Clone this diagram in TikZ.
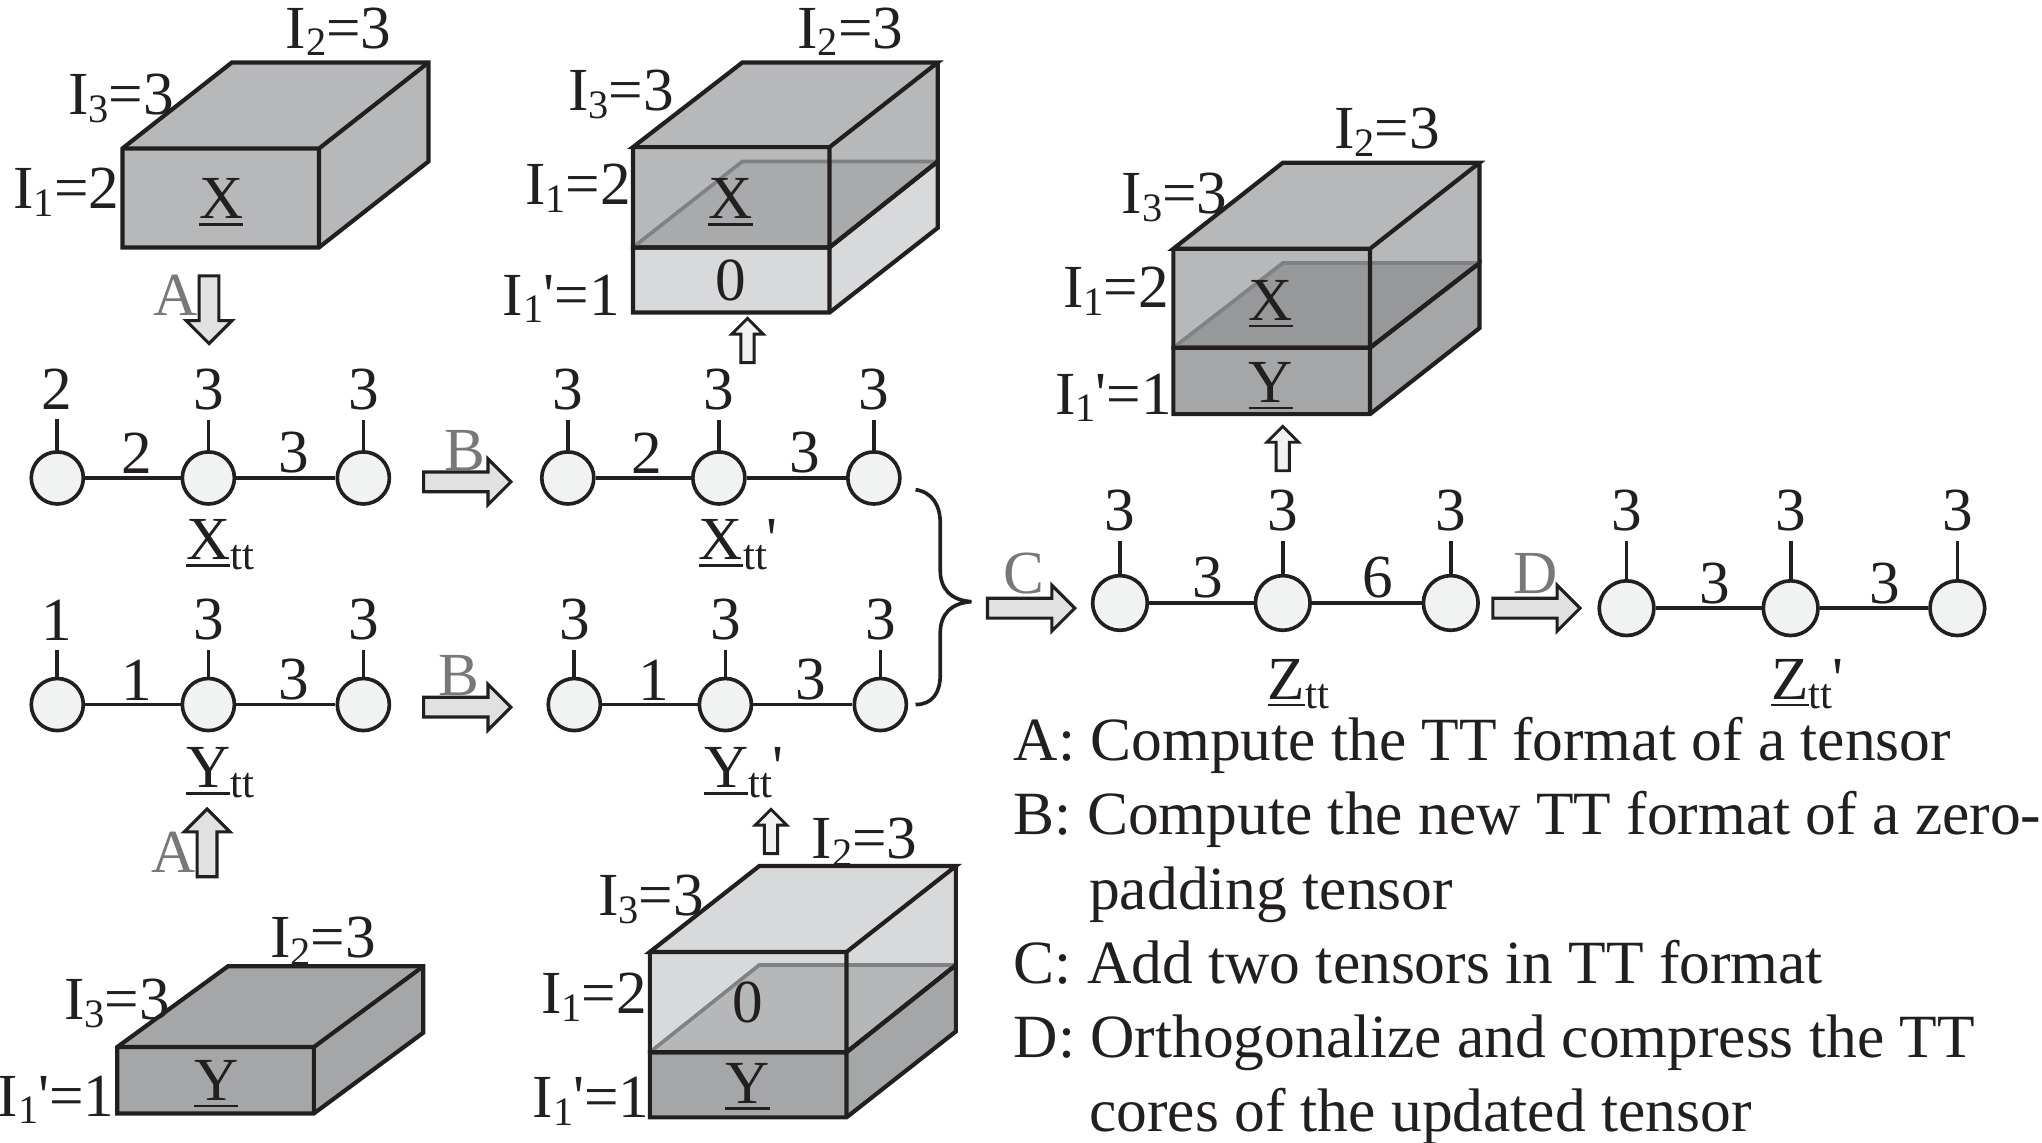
\documentclass[tikz,border=0pt]{standalone}
\usepackage{fontspec}
\setmainfont{Liberation Serif}
\usetikzlibrary{shapes.arrows}

\definecolor{edgecol}{HTML}{231F20}
\definecolor{hidcol}{HTML}{808183}
\definecolor{lablcol}{HTML}{77787A}
\definecolor{corecol}{HTML}{F1F2F2}
\definecolor{arrowcol}{HTML}{E0E1E3}
\definecolor{lightcol}{HTML}{D8D9DB}
\definecolor{midcol}{HTML}{B7B8BA}
\definecolor{floorcol}{HTML}{A9AAAC}
\definecolor{darkcol}{HTML}{A5A6A8}
\definecolor{deepcol}{HTML}{97989A}
\definecolor{softcol}{HTML}{B6B7B9}

\newcommand{\dn}[1]{\raisebox{-3pt}{\fontsize{15.5}{15.5}\selectfont #1}}
\newcommand{\tn}[1]{\raisebox{-3.5pt}{\fontsize{16.5}{16.5}\selectfont #1}}
\newcommand{\tick}{\textquotesingle}
\newcommand{\ubar}[1]{\leavevmode\setbox0\hbox{#1}\rlap{\raisebox{-2.7pt}{\rule{\wd0}{1.1pt}}}\box0}

\begin{document}
\begin{tikzpicture}[x=0.5pt,y=-0.5pt,node distance=58pt,line join=miter,
  text=edgecol,font=\fontsize{23.5}{24}\selectfont,
  core node/.style={circle,fill=corecol,draw=edgecol,line width=1.4pt,minimum size=20pt,inner sep=0pt},
  dim node/.style={inner sep=3.5pt},
  lab node/.style={anchor=base,inner sep=0pt},
  step label/.style={anchor=base,inner sep=0pt,text=lablcol},
  big arrow/.style={single arrow,draw=edgecol,fill=arrowcol,line width=1.2pt,inner sep=3.2pt,
    minimum height=33.5pt,minimum width=17pt,single arrow head extend=5pt},
  side arrow/.style={big arrow,minimum height=26pt},
  small arrow/.style={single arrow,draw=edgecol,fill=corecol,line width=1.1pt,inner sep=2pt,
    minimum height=17pt,minimum width=11pt,single arrow head extend=3.5pt,rotate=90},
  box line/.style={draw=edgecol,line width=1.6pt},
  hid line/.style={draw=hidcol,line width=1.4pt},
  tt edge/.style={draw=edgecol,line width=1.4pt},
  legend/.style={anchor=base west,inner sep=0pt,font=\fontsize{23.6}{24}\selectfont}]

  \useasboundingbox (0,0) rectangle (1568,877);

  % box X
  \path[fill=midcol,box line] (94,114) -- (178,48) -- (329,48) -- (329,124) -- (245,190) -- (94,190) -- cycle;
  \draw[box line] (94,114) -- (245,114) -- (329,48) (245,114) -- (245,190);

  % box Y
  \path[fill=darkcol,box line] (90,804) -- (175,742) -- (325,742) -- (325,793) -- (241,855) -- (90,855) -- cycle;
  \draw[box line] (90,804) -- (241,804) -- (325,742) (241,804) -- (241,855);

  % X with zero padding
  \path[fill=midcol] (486,113) -- (570,48) -- (720,48) -- (720,124) -- (637,190) -- (486,190) -- cycle;
  \path[fill=floorcol] (486,190) -- (570,124) -- (720,124) -- (637,190) -- cycle;
  \path[fill=lightcol,box line] (486,190) -- (637,190) -- (720,124) -- (720,175) -- (637,240) -- (486,240) -- cycle;
  \draw[hid line] (486,190) -- (570,124) -- (720,124);
  \draw[box line] (486,113) -- (570,48) -- (720,48) -- (637,113) -- cycle
    (720,48) -- (720,124) (486,113) -- (486,190) -- (637,190) -- (720,124) (637,113) -- (637,240);

  % Y with zero padding
  \path[fill=lightcol] (499,731) -- (583,665) -- (734,665) -- (734,741) -- (650,808) -- (499,808) -- cycle;
  \path[fill=softcol] (499,808) -- (583,741) -- (734,741) -- (650,808) -- cycle;
  \path[fill=darkcol,box line] (499,808) -- (650,808) -- (734,741) -- (734,792) -- (650,858) -- (499,858) -- cycle;
  \draw[hid line] (499,808) -- (583,741) -- (734,741);
  \draw[box line] (499,731) -- (583,665) -- (734,665) -- (650,731) -- cycle
    (734,665) -- (734,741) (499,731) -- (499,808) -- (650,808) -- (734,741) (650,731) -- (650,858);

  % sum of both
  \path[fill=midcol] (901,191) -- (985,125) -- (1136,125) -- (1136,202) -- (1052,267) -- (901,267) -- cycle;
  \path[fill=deepcol] (901,267) -- (985,202) -- (1136,202) -- (1052,267) -- cycle;
  \path[fill=darkcol,box line] (901,267) -- (1052,267) -- (1136,202) -- (1136,252) -- (1052,318) -- (901,318) -- cycle;
  \draw[hid line] (901,267) -- (985,202) -- (1136,202);
  \draw[box line] (901,191) -- (985,125) -- (1136,125) -- (1052,191) -- cycle
    (1136,125) -- (1136,202) (901,191) -- (901,267) -- (1052,267) -- (1136,202) (1052,191) -- (1052,318);

  % box labels
  \node[lab node] (i2a) at (260,37) {I\dn{2}=3};
  \node[lab node] (i3a) at (93,88) {I\dn{3}=3};
  \node[lab node] (i1a) at (51,160) {I\dn{1}=2};
  \node[lab node] (xa) at (170,168) {\ubar{X}};

  \node[lab node] (i2b) at (653,37) {I\dn{2}=3};
  \node[lab node] (i3b) at (477,85) {I\dn{3}=3};
  \node[lab node] (i1b) at (444,157) {I\dn{1}=2};
  \node[lab node] (i0b) at (431,242) {I\dn{1}\tick=1};
  \node[lab node] (xb) at (561,168) {\ubar{X}};
  \node[lab node] (zb) at (561,231) {0};

  \node[lab node] (i2c) at (1065,114) {I\dn{2}=3};
  \node[lab node] (i3c) at (902,164) {I\dn{3}=3};
  \node[lab node] (i1c) at (857,236) {I\dn{1}=2};
  \node[lab node] (i0c) at (855,318) {I\dn{1}\tick=1};
  \node[lab node] (xc) at (976,246) {\ubar{X}};
  \node[lab node] (yc) at (976,309) {\ubar{Y}};

  \node[lab node] (i2d) at (248,735) {I\dn{2}=3};
  \node[lab node] (i3d) at (90,783) {I\dn{3}=3};
  \node[lab node] (i0d) at (43,857) {I\dn{1}\tick=1};
  \node[lab node] (yd) at (166,845) {\ubar{Y}};

  \node[lab node] (i2e) at (664,659) {I\dn{2}=3};
  \node[lab node] (i3e) at (500,703) {I\dn{3}=3};
  \node[lab node] (i1e) at (456,778) {I\dn{1}=2};
  \node[lab node] (i0e) at (454,858) {I\dn{1}\tick=1};
  \node[lab node] (ze) at (574,785) {0};
  \node[lab node] (ye) at (574,847) {\ubar{Y}};

  % tensor trains
  \node[core node] (a1) at (44,367) {};
  \node[core node] (a2) [right of=a1] {};
  \node[core node] (a3) [right of=a2,xshift=1.5pt] {};
  \node[dim node] (ta1) [above of=a1,node distance=34pt] {2};
  \node[dim node] (ta2) [above of=a2,node distance=34pt] {3};
  \node[dim node] (ta3) [above of=a3,node distance=34pt] {3};

  \node[core node] (b1) at (436,367) {};
  \node[core node] (b2) [right of=b1] {};
  \node[core node] (b3) [right of=b2,xshift=1.5pt] {};
  \node[dim node] (tb1) [above of=b1,node distance=34pt] {3};
  \node[dim node] (tb2) [above of=b2,node distance=34pt] {3};
  \node[dim node] (tb3) [above of=b3,node distance=34pt] {3};

  \node[core node] (c1) at (44,541) {};
  \node[core node] (c2) [right of=c1] {};
  \node[core node] (c3) [right of=c2,xshift=1.5pt] {};
  \node[dim node] (tc1) [above of=c1,node distance=32.5pt] {1};
  \node[dim node] (tc2) [above of=c2,node distance=32.5pt] {3};
  \node[dim node] (tc3) [above of=c3,node distance=32.5pt] {3};

  \node[core node] (d1) at (441,541) {};
  \node[core node] (d2) [right of=d1] {};
  \node[core node] (d3) [right of=d2,xshift=1.5pt] {};
  \node[dim node] (td1) [above of=d1,node distance=32.5pt] {3};
  \node[dim node] (td2) [above of=d2,node distance=32.5pt] {3};
  \node[dim node] (td3) [above of=d3,node distance=32.5pt] {3};

  \node[core node,minimum size=21pt] (e1) at (860,463) {};
  \node[core node,minimum size=21pt] (e2) [right of=e1,node distance=62.5pt] {};
  \node[core node,minimum size=21pt] (e3) [right of=e2,node distance=64.5pt] {};
  \node[dim node] (te1) [above of=e1,node distance=35.5pt] {3};
  \node[dim node] (te2) [above of=e2,node distance=35.5pt] {3};
  \node[dim node] (te3) [above of=e3,node distance=35.5pt] {3};

  \node[core node,minimum size=21pt] (f1) at (1249,467) {};
  \node[core node,minimum size=21pt] (f2) [right of=f1,node distance=63pt] {};
  \node[core node,minimum size=21pt] (f3) [right of=f2,node distance=64pt] {};
  \node[dim node] (tf1) [above of=f1,node distance=37.5pt] {3};
  \node[dim node] (tf2) [above of=f2,node distance=37.5pt] {3};
  \node[dim node] (tf3) [above of=f3,node distance=37.5pt] {3};

  \path[tt edge,every node/.style={above,inner sep=1pt}]
    (a1) edge node[pos=.54] {2} (a2)
    (a2) edge node[pos=.58] {3} (a3)
    (b1) edge node[pos=.54] {2} (b2)
    (b2) edge node[pos=.58] {3} (b3)
    (c1) edge node[pos=.54] {1} (c2)
    (c2) edge node[pos=.58] {3} (c3)
    (d1) edge node[pos=.54] {1} (d2)
    (d2) edge node[pos=.58] {3} (d3)
    (e1) edge node[pos=.56] {3} (e2)
    (e2) edge node[pos=.6] {6} (e3)
    (f1) edge node[pos=.56] {3} (f2)
    (f2) edge node[pos=.6] {3} (f3);

  \path[tt edge]
    (a1) edge (ta1) (a2) edge (ta2) (a3) edge (ta3)
    (b1) edge (tb1) (b2) edge (tb2) (b3) edge (tb3)
    (c1) edge (tc1) (c2) edge (tc2) (c3) edge (tc3)
    (d1) edge (td1) (d2) edge (td2) (d3) edge (td3)
    (e1) edge (te1) (e2) edge (te2) (e3) edge (te3)
    (f1) edge (tf1) (f2) edge (tf2) (f3) edge (tf3);

  % names of the trains
  \node[lab node] (xtt) at (169,430) {\ubar{X}\tn{tt}};
  \node[lab node] (xttn) at (567,430) {\ubar{X}\tn{tt}\tick};
  \node[lab node] (ytt) at (169,605) {\ubar{Y}\tn{tt}};
  \node[lab node] (yttn) at (571,605) {\ubar{Y}\tn{tt}\tick};
  \node[lab node] (ztt) at (997,537) {\ubar{Z}\tn{tt}};
  \node[lab node] (zttn) at (1388,537) {\ubar{Z}\tn{tt}\tick};

  % block arrows
  \node[side arrow,rotate=-90] (aa) at (160.5,234) {};
  \node[side arrow,rotate=90] (ab) at (159,651) {};
  \node[big arrow] (ba) at (355,370) {};
  \node[big arrow] (bb) at (355,543) {};
  \node[big arrow] (ca) at (788,467) {};
  \node[big arrow] (da) at (1176,467) {};
  \node[small arrow] (ua) at (574,264) {};
  \node[small arrow] (ub) at (985,347) {};
  \node[small arrow] (uc) at (592,641) {};

  \node[step label] (la) at (135,242) {A};
  \node[step label] (lb) at (133,670) {A};
  \node[step label] (lc) at (357,361) {B};
  \node[step label] (ld) at (352,534) {B};
  \node[step label] (le) at (786,456) {C};
  \node[step label] (lf) at (1179,456) {D};

  % brace joining the two trains
  \coordinate (brtop) at (703,376);
  \coordinate (brtip) at (746,462);
  \coordinate (brlow) at (703,541);
  \draw[tt edge] (brtop) .. controls (716,378) and (722,388) .. (722,402) -- (722,438)
    .. controls (722,452) and (730,461) .. (brtip)
    .. controls (730,463) and (722,472) .. (722,486) -- (722,518)
    .. controls (722,532) and (716,541) .. (brlow);

  % legend
  \node[legend] (t1) at (778,584) {A: Compute the TT format of a tensor};
  \node[legend] (t2) at (778,641) {B: Compute the new TT format of a zero-};
  \node[legend] (t3) at (836,698) {padding tensor};
  \node[legend] (t4) at (778,755) {C: Add two tensors in TT format};
  \node[legend] (t5) at (778,812) {D: Orthogonalize and compress the TT};
  \node[legend] (t6) at (836,869) {cores of the updated tensor};

\end{tikzpicture}
\end{document}
